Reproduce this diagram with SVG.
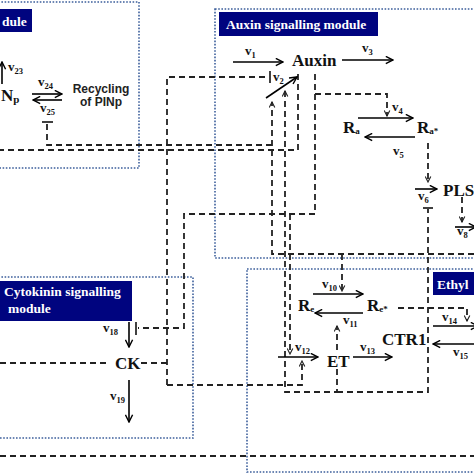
<svg xmlns="http://www.w3.org/2000/svg" width="474" height="474" viewBox="0 0 474 474">
<style>
.box{fill:none;stroke:#3d5f9c;stroke-width:1.6;stroke-dasharray:1.6 1.6}
.tbar{fill:#00047f}
.ttl{font-family:"Liberation Serif",serif;font-weight:bold;font-size:13.5px;fill:#fff}
.dash{fill:none;stroke:#222;stroke-width:1.8;stroke-dasharray:6 4}
.arr{fill:none;stroke:#000;stroke-width:1.6;marker-end:url(#ah)}
.bar{stroke:#111;stroke-width:1.6}
.v{font-family:"Liberation Serif",serif;font-weight:bold;font-size:13px;fill:#111}
.s{font-size:8.5px}
.node{font-family:"Liberation Serif",serif;font-weight:bold;font-size:17px;fill:#111}
.sans{font-family:"Liberation Sans",Arial,sans-serif;font-weight:bold;font-size:12px;fill:#222}
</style>
<defs>
<marker id="ah" viewBox="0 0 10 10" refX="9" refY="5" markerWidth="9" markerHeight="9" orient="auto" markerUnits="userSpaceOnUse"><path d="M1,1 L9,5 L1,9" fill="none" stroke="#000" stroke-width="1.6"/></marker>
<marker id="dh" viewBox="0 0 10 10" refX="9" refY="5" markerWidth="7" markerHeight="7" orient="auto" markerUnits="userSpaceOnUse"><path d="M1,1 L9,5 L1,9" fill="none" stroke="#222" stroke-width="1.6"/></marker>
</defs>
<rect width="474" height="474" fill="#fff"/>

<g id="pin-module">
<rect class="box" x="-5" y="2" width="144" height="166"/>
<rect class="tbar" x="0" y="9" width="32" height="23"/>
<text class="ttl" x="2" y="26">dule</text>
</g>
<g id="auxin-module">
<rect class="box" x="215" y="9" width="270" height="249"/>
<rect class="tbar" x="219" y="12" width="159" height="24"/>
<text class="ttl" x="226" y="29">Auxin signalling module</text>
</g>
<g id="cytokinin-module">
<rect class="box" x="-5" y="277" width="198" height="161"/>
<rect class="tbar" x="0" y="281" width="132" height="40"/>
<text class="ttl" x="4" y="296">Cytokinin signalling</text>
<text class="ttl" x="8" y="313">module</text>
</g>
<g id="ethylene-module">
<rect class="box" x="247" y="269" width="240" height="203"/>
<rect class="tbar" x="433" y="272" width="45" height="23"/>
<text class="ttl" x="437" y="289">Ethyl</text>
</g>

<g id="connectors">
<path class="dash" d="M298,74 V150 H0"/>
<path class="dash" d="M474,254 H272 V102" marker-end="url(#dh)"/>
<path class="dash" d="M272,145 H47 V123"/>
<line class="bar" x1="42" y1="122" x2="53" y2="122"/>
<path class="dash" d="M342,254 V291" marker-end="url(#dh)"/>
<path class="dash" d="M337,369 V392 H285 V91" marker-end="url(#dh)"/>
<path class="dash" d="M337,350 V326" marker-end="url(#dh)"/>
<path class="dash" d="M337,392 H428 V209"/>
<line class="bar" x1="423" y1="208" x2="433" y2="208"/>
<path class="dash" d="M315,74 V214 H184 V328 H138"/>
<line class="bar" x1="136" y1="322" x2="136" y2="335"/>
<path class="dash" d="M315,94 H387 V116" marker-end="url(#dh)"/>
<path class="dash" d="M290,214 V354" marker-end="url(#dh)"/>
<path class="dash" d="M141,363 H167"/>
<path class="dash" d="M167,385 V77 H269"/>
<line class="bar" x1="270" y1="71" x2="270" y2="83"/>
<path class="dash" d="M167,385 H302 V361" marker-end="url(#dh)"/>
<path class="dash" d="M0,363 H107"/>
<path class="dash" d="M0,456 H474"/>
<path class="dash" d="M428,143 V182" marker-end="url(#dh)"/>
<path class="dash" d="M462,197 V222" marker-end="url(#dh)"/>
<path class="dash" d="M398,308 H467 V321" marker-end="url(#dh)"/>
<line class="arr" x1="2" y1="84" x2="2" y2="62"/>
<line class="arr" x1="32" y1="94" x2="62" y2="94"/>
<line class="arr" x1="62" y1="100" x2="33" y2="100"/>
<line class="arr" x1="233" y1="62" x2="283" y2="62"/>
<line class="arr" x1="342" y1="60" x2="393" y2="60"/>
<line class="arr" x1="266" y1="98" x2="297" y2="77"/>
<line class="arr" x1="358" y1="118" x2="413" y2="118"/>
<line class="arr" x1="415" y1="137" x2="365" y2="137"/>
<line class="arr" x1="415" y1="189" x2="437" y2="189"/>
<line class="arr" x1="455" y1="227" x2="476" y2="227"/>
<line class="arr" x1="313" y1="294" x2="363" y2="294"/>
<line class="arr" x1="363" y1="313" x2="315" y2="313"/>
<line class="arr" x1="278" y1="357" x2="318" y2="357"/>
<line class="arr" x1="353" y1="357" x2="392" y2="357"/>
<line class="arr" x1="433" y1="326" x2="478" y2="326"/>
<line class="arr" x1="476" y1="344" x2="433" y2="344"/>
<line class="arr" x1="129" y1="322" x2="129" y2="347"/>
<line class="arr" x1="129" y1="380" x2="129" y2="422"/>
<text class="v" x="8" y="71">v<tspan class="s" dy="3">23</tspan></text>
<text class="v" x="38" y="86">v<tspan class="s" dy="3">24</tspan></text>
<text class="v" x="40" y="112">v<tspan class="s" dy="3">25</tspan></text>
<text class="v" x="245" y="55">v<tspan class="s" dy="3">1</tspan></text>
<text class="v" x="362" y="52">v<tspan class="s" dy="3">3</tspan></text>
<text class="v" x="273" y="81">v<tspan class="s" dy="3">2</tspan></text>
<text class="v" x="392" y="111">v<tspan class="s" dy="3">4</tspan></text>
<text class="v" x="393" y="155">v<tspan class="s" dy="3">5</tspan></text>
<text class="v" x="418" y="200">v<tspan class="s" dy="3">6</tspan></text>
<text class="v" x="457" y="235">v<tspan class="s" dy="3">8</tspan></text>
<text class="v" x="322" y="288">v<tspan class="s" dy="3">10</tspan></text>
<text class="v" x="343" y="324">v<tspan class="s" dy="3">11</tspan></text>
<text class="v" x="295" y="351">v<tspan class="s" dy="3">12</tspan></text>
<text class="v" x="360" y="351">v<tspan class="s" dy="3">13</tspan></text>
<text class="v" x="442" y="321">v<tspan class="s" dy="3">14</tspan></text>
<text class="v" x="453" y="356">v<tspan class="s" dy="3">15</tspan></text>
<text class="v" x="103" y="332">v<tspan class="s" dy="3">18</tspan></text>
<text class="v" x="110" y="400">v<tspan class="s" dy="3">19</tspan></text>
</g>

<g id="node-np"><text class="node" x="1" y="101" font-size="16">N<tspan font-size="11" dy="2">p</tspan></text></g>
<g id="node-recycling"><text class="sans" x="101" y="93" text-anchor="middle">Recycling</text><text class="sans" x="101" y="106" text-anchor="middle">of PINp</text></g>
<g id="node-auxin"><text class="node" x="292" y="66">Auxin</text></g>
<g id="node-ra"><text class="node" x="343" y="133">R<tspan font-size="9" dy="1">a</tspan></text></g>
<g id="node-ra-star"><text class="node" x="417" y="133">R<tspan font-size="9" dy="1">a*</tspan></text></g>
<g id="node-pls"><text class="node" x="443" y="196" font-size="16">PLS</text></g>
<g id="node-re"><text class="node" x="298" y="311">R<tspan font-size="9" dy="1">e</tspan></text></g>
<g id="node-re-star"><text class="node" x="367" y="311">R<tspan font-size="9" dy="1">e*</tspan></text></g>
<g id="node-ctr1"><text class="node" x="382" y="345">CTR1</text></g>
<g id="node-et"><text class="node" x="327" y="367">ET</text></g>
<g id="node-ck"><text class="node" x="115" y="369" font-weight="normal">CK</text></g>
</svg>
